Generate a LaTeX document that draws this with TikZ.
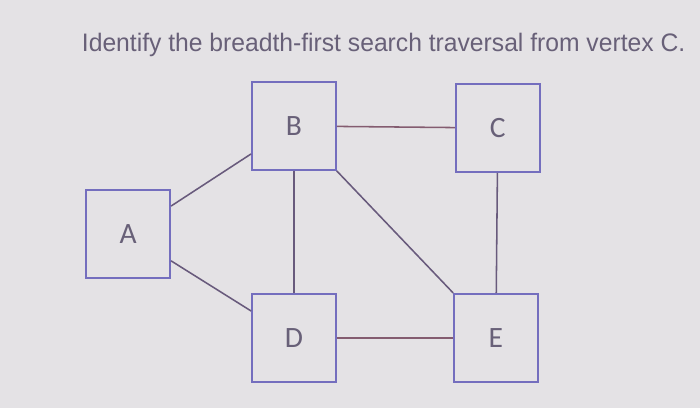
\documentclass[tikz,border=0pt]{standalone}
\usepackage{fontspec}
\setmainfont{Liberation Sans}
\newfontfamily\vertexfont{Carlito}
\usetikzlibrary{positioning}
\definecolor{paper}{RGB}{228,226,229}
\definecolor{boxline}{RGB}{116,110,190}
\definecolor{edgeline}{RGB}{104,90,124}
\definecolor{edgered}{RGB}{132,92,112}
\definecolor{inktext}{RGB}{104,96,120}

\begin{document}
\begin{tikzpicture}[node distance=3cm,
vertex/.style={
% The shape:
rectangle,
% The size:
minimum width=2.1cm, minimum height=2.2cm,
% The border:
line width=1.3pt,
draw=boxline,
% Font
font=\vertexfont\fontsize{21}{24}\selectfont,
text=inktext
}, link/.style={
% plain connector
line width=1.1pt, draw=edgeline},
redlink/.style={
line width=1.1pt, draw=edgered}]

\fill[paper] (0,0) rectangle (17.5,10.2);
\useasboundingbox (0,0) rectangle (17.5,10.2);

\node (title) at (9.59,8.91) [anchor=base, xscale=0.975, text=inktext,
  font=\fontsize{18}{21}\selectfont]
  {Identify the breadth-first search traversal from vertex C.};

\node (b) at (7.35,7.05) [vertex] {B};
\node (c) [vertex, right=2.95cm of b, yshift=-0.05cm] {C};
\node (d) [vertex, below=3.05cm of b] {D};
\node (e) [vertex, right=2.9cm of d] {E};
\node (a) [vertex, left=2cm of b, yshift=-2.7cm] {A};

\path (a) edge[link] (b);
\path (a) edge[link] (d);
\path (b) edge[redlink] (c);
\path (b) edge[link] (d);
\path (b) edge[link] (e);
\path (c) edge[link] (e);
\path (d) edge[redlink] (e);
\end{tikzpicture}
\end{document}
